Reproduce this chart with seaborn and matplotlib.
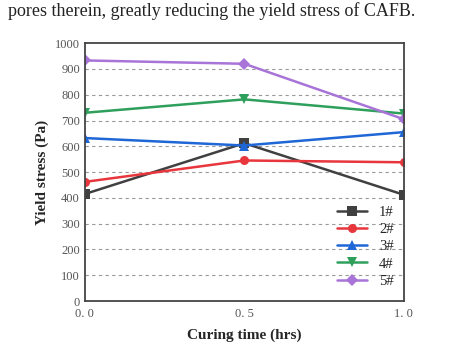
import matplotlib
matplotlib.use("Agg")
import matplotlib.pyplot as plt
import seaborn as sns
import pandas as pd

times = [0.0, 0.5, 1.0]
series_names = ["1#", "2#", "3#", "4#", "5#"]
s1 = [415, 612, 412]
s2 = [462, 545, 538]
s3 = [632, 603, 655]
s4 = [730, 782, 727]
s5 = [933, 920, 705]
x_tick_labels = ["0. 0", "0. 5", "1. 0"]
y_ticks = [0, 100, 200, 300, 400, 500, 600, 700, 800, 900, 1000]

colors = ["#404040", "#e8363d", "#1f66d6", "#2ea05c", "#a874d8"]
markers = ["s", "o", "^", "v", "D"]

rows = []
for name, vals in zip(series_names, [s1, s2, s3, s4, s5]):
    for t, v in zip(times, vals):
        rows.append({"time": t, "stress": v, "series": name})
df = pd.DataFrame(rows)

sns.set_style("white")
plt.rcParams["font.family"] = ["Liberation Serif", "DejaVu Serif"]

fig = plt.figure(figsize=(4.74, 3.48), dpi=100)
ax = fig.add_axes([0.179, 0.135, 0.673, 0.741])

for y in y_ticks[1:-1]:
    ax.axhline(y, color="#999999", linestyle=(0, (3, 3)), linewidth=0.8, zorder=0)

sns.lineplot(data=df, x="time", y="stress", hue="series", style="series",
             palette=colors, markers=markers, dashes=False, markersize=6.5,
             linewidth=1.8, markeredgewidth=0, ax=ax, legend=True)

ax.set_xlim(0, 1.0)
ax.set_ylim(0, 1000)
ax.set_xticks(times)
ax.set_xticklabels(x_tick_labels)
ax.set_yticks(y_ticks)
ax.tick_params(axis="both", direction="in", length=4, width=0.8, colors="#444444",
               labelsize=9, labelcolor="#555555")
ax.tick_params(axis="x", pad=5)
for sp in ax.spines.values():
    sp.set_color("#444444")
    sp.set_linewidth(1.3)

ax.set_xlabel("Curing time (hrs)", fontsize=11, fontweight="bold", labelpad=6)
ax.set_ylabel("Yield stress (Pa)", fontsize=11, fontweight="bold", labelpad=4)

leg = ax.legend(loc="lower right", bbox_to_anchor=(1.01, 0.0), frameon=False,
                fontsize=10.5, handlelength=2.1, labelspacing=0.28,
                handletextpad=0.8)

fig.text(0.017, 0.995, "pores therein, greatly reducing the yield stress of CAFB.",
         fontsize=13, va="top", ha="left", color="#222222",
         family=["Liberation Serif", "DejaVu Serif"])

fig.savefig("out.png", dpi=100)
